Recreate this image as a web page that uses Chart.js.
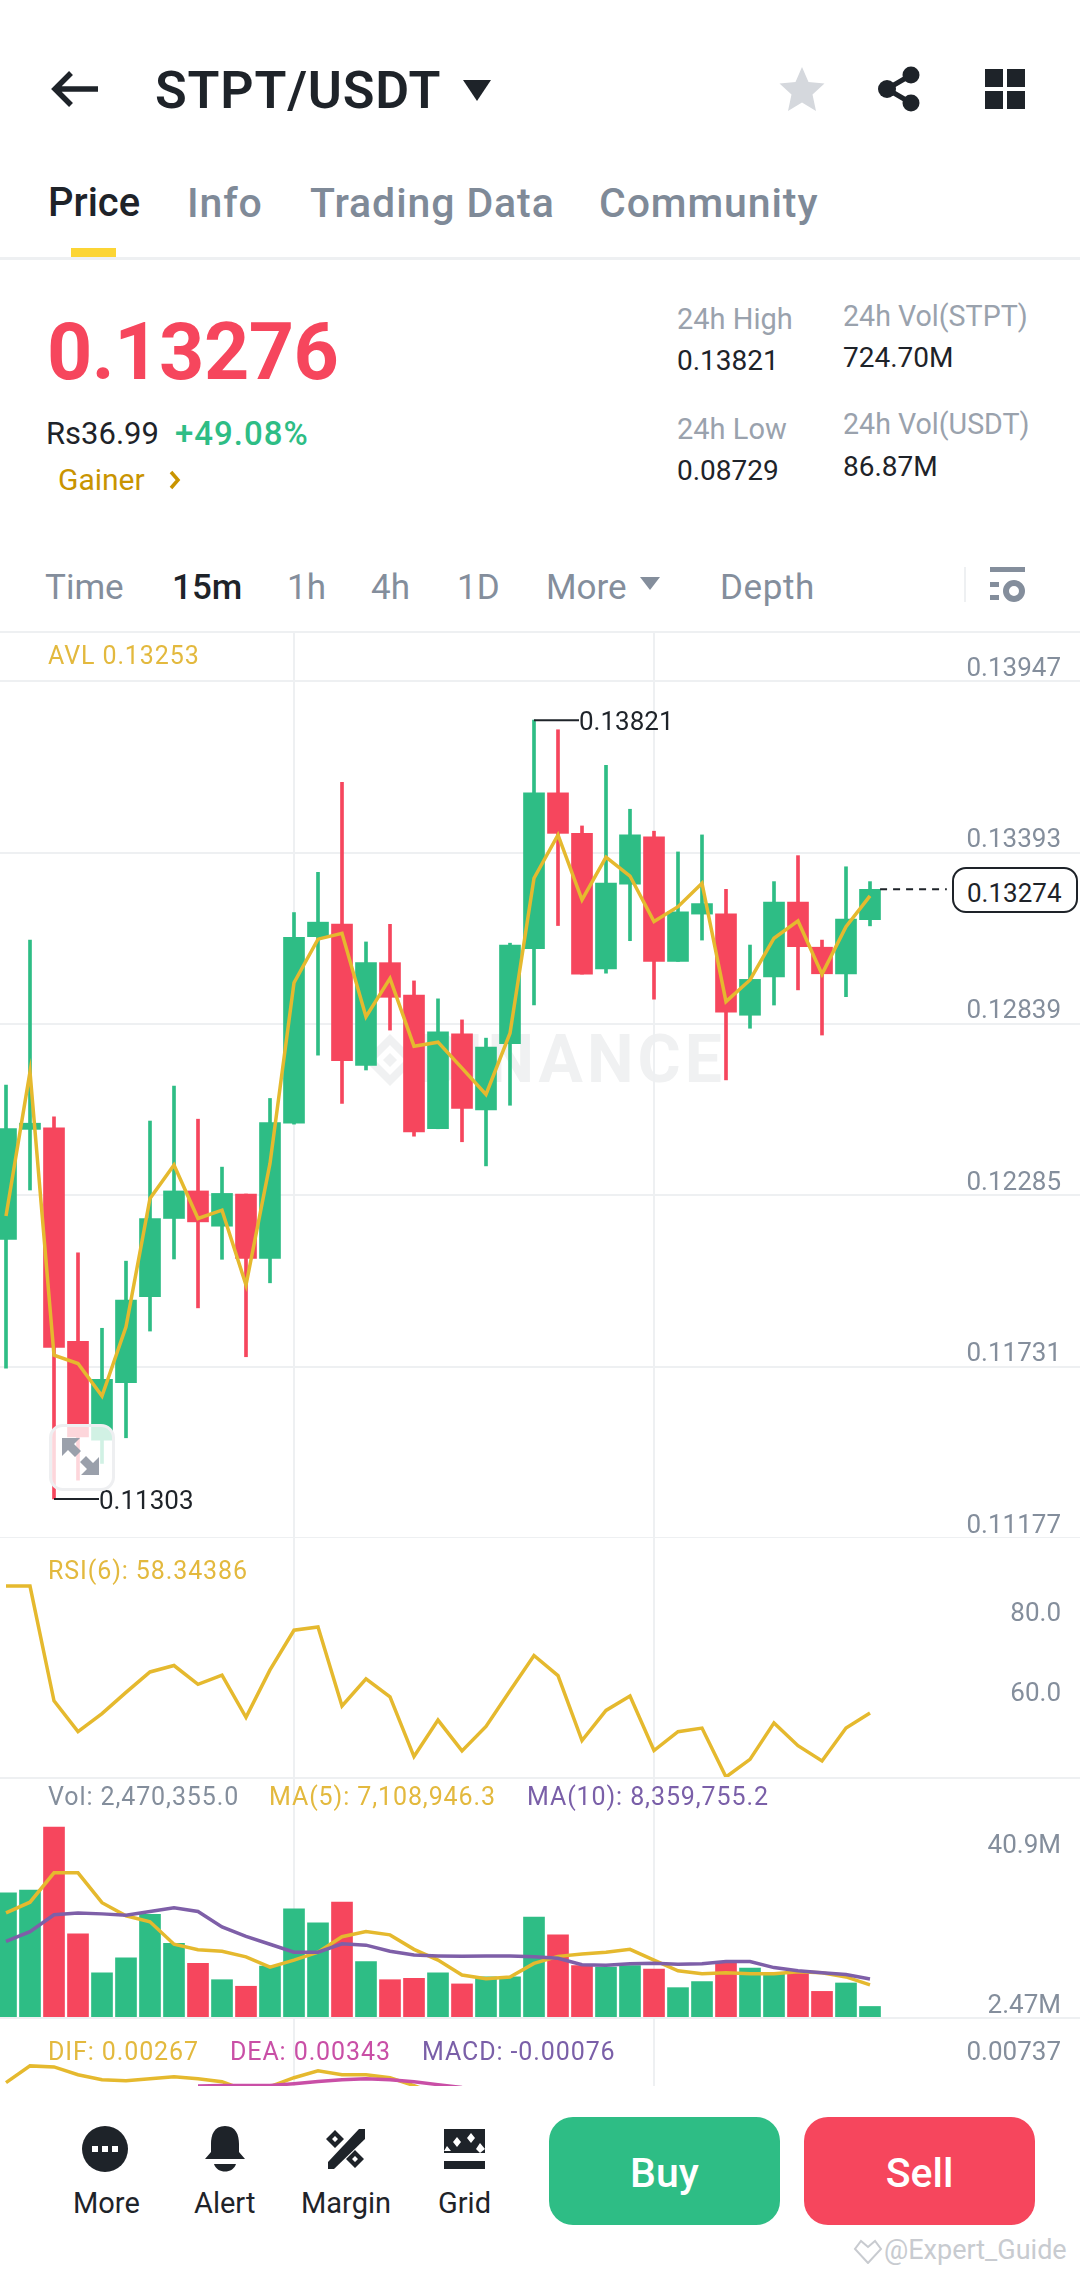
<!DOCTYPE html>
<html>
<head>
<meta charset="utf-8">
<script src="https://cdn.jsdelivr.net/npm/chart.js@4"></script>
<style>
html, body { margin: 0; padding: 0; background: #fff; }
body { width: 1080px; height: 2272px; position: relative; overflow: hidden; font-family: Roboto, sans-serif; color: #1E2329; }
.t { position: absolute; white-space: nowrap; line-height: 1; transform: translateY(-50%); }
.gris { color: #848E9C; }
.claro { color: #9AA2AD; }
.tab { font-size: 41px; font-weight: 500; color: #7F8A98; letter-spacing: 0.9px; }
.tf { font-size: 35px; color: #848E9C; }
.leg { font-size: 25px; letter-spacing: 0.9px; }
.nav { font-size: 29px; }
canvas { position: absolute; left: 0; }
.pane { position: absolute; left: 0; width: 1080px; }
.linea { position: absolute; left: 0; width: 1080px; height: 2px; background: #EEF0F2; }
svg { position: absolute; }
.btn { position: absolute; top: 2117px; height: 108px; width: 231px; border-radius: 24px; color: #fff; font-size: 41px; font-weight: 500; text-align: center; line-height: 112px; }
</style>
</head>
<body>

<!-- cabecera -->
<svg style="left:50px;top:70px" width="50" height="38" viewBox="0 0 50 38"><path d="M21 3 L5 19 L21 35 M5 19 H48" fill="none" stroke="#1E2329" stroke-width="5.5"/></svg>
<div class="t" style="left:155px;top:91px;font-size:52px;font-weight:600;letter-spacing:0.8px">STPT/USDT</div>
<svg style="left:463px;top:80px" width="28" height="21"><path d="M0 0 H28 L14 21 Z" fill="#1E2329"/></svg>
<svg style="left:779px;top:66px" width="46" height="46" viewBox="0 0 46 46"><path d="M23 1 L29.5 16 L45.5 17.5 L33.5 28.5 L37 45 L23 36.5 L9 45 L12.5 28.5 L0.5 17.5 L16.5 16 Z" fill="#D5D8DD"/></svg>
<svg style="left:876px;top:66px" width="46" height="46" viewBox="0 0 46 46"><path d="M35 9 L11 23 L35 37" fill="none" stroke="#1E2329" stroke-width="5"/><circle cx="35" cy="9" r="8.5" fill="#1E2329"/><circle cx="11" cy="23" r="9" fill="#1E2329"/><circle cx="35" cy="37" r="8.5" fill="#1E2329"/></svg>
<svg style="left:985px;top:69px" width="40" height="40"><rect width="18" height="18" fill="#1E2329"/><rect x="22" width="18" height="18" fill="#1E2329"/><rect y="22" width="18" height="18" fill="#1E2329"/><rect x="22" y="22" width="18" height="18" fill="#1E2329"/></svg>

<div class="t tab" style="left:48px;top:203px;color:#1E2329;font-size:40px;letter-spacing:0">Price</div>
<div class="t tab" style="left:187px;top:203px">Info</div>
<div class="t tab" style="left:310px;top:203px">Trading Data</div>
<div class="t tab" style="left:599px;top:203px">Community</div>
<div style="position:absolute;left:71px;top:248px;width:45px;height:9px;background:#FCD535"></div>
<div class="linea" style="top:257px;height:3px"></div>

<!-- precio -->
<div class="t" style="left:47px;top:352px;font-size:79px;font-weight:700;color:#F6465D;letter-spacing:-0.5px">0.13276</div>
<div class="t" style="left:46px;top:433px;font-size:31px">Rs36.99</div>
<div class="t" style="left:175px;top:433px;font-size:33px;font-weight:500;color:#2EBD85;letter-spacing:1px">+49.08%</div>
<div class="t" style="left:58px;top:480px;font-size:30px;color:#C99400">Gainer</div>
<svg style="left:169px;top:470px" width="12" height="20"><path d="M2 2 L9 10 L2 18" fill="none" stroke="#C99400" stroke-width="3.5"/></svg>

<div class="t claro" style="left:677px;top:319px;font-size:29px">24h High</div>
<div class="t" style="left:677px;top:361px;font-size:28px">0.13821</div>
<div class="t claro" style="left:843px;top:316px;font-size:28.6px">24h Vol(STPT)</div>
<div class="t" style="left:843px;top:358px;font-size:28px">724.70M</div>
<div class="t claro" style="left:677px;top:429px;font-size:29px">24h Low</div>
<div class="t" style="left:677px;top:471px;font-size:28px">0.08729</div>
<div class="t claro" style="left:843px;top:424px;font-size:28.6px">24h Vol(USDT)</div>
<div class="t" style="left:843px;top:467px;font-size:28px">86.87M</div>

<!-- temporalidades -->
<div class="t tf" style="left:45px;top:587px">Time</div>
<div class="t tf" style="left:172px;top:587px;color:#1E2329;font-weight:500">15m</div>
<div class="t tf" style="left:287px;top:587px">1h</div>
<div class="t tf" style="left:371px;top:587px">4h</div>
<div class="t tf" style="left:457px;top:587px">1D</div>
<div class="t tf" style="left:546px;top:587px">More</div>
<svg style="left:640px;top:577px" width="20" height="13"><path d="M0 0 H20 L10 13 Z" fill="#848E9C"/></svg>
<div class="t tf" style="left:720px;top:587px;letter-spacing:0.6px">Depth</div>
<div style="position:absolute;left:964px;top:567px;width:2px;height:35px;background:#EEF0F2"></div>
<svg style="left:990px;top:567px" width="36" height="36" viewBox="0 0 36 36"><rect x="0" y="0" width="35" height="5" fill="#848E9C"/><rect x="0" y="15" width="9" height="5" fill="#848E9C"/><rect x="0" y="28" width="9" height="5" fill="#848E9C"/><circle cx="24" cy="24" r="8" fill="none" stroke="#848E9C" stroke-width="6"/></svg>

<!-- paneles -->
<div class="linea" style="top:631px"></div>

<!-- marca de agua detras de las velas -->
<svg style="left:360px;top:1030px" width="60" height="60" viewBox="0 0 60 60"><path d="M30 4 L56 30 L30 56 L4 30 Z M30 15 L15 30 L30 45 L45 30 Z" fill="#F0F1F2" fill-rule="evenodd"/><path d="M30 23 L37 30 L30 37 L23 30 Z" fill="#F0F1F2"/></svg>
<div class="t" style="left:418px;top:1060px;font-size:66px;font-weight:700;color:#F0F1F2;letter-spacing:4px">BINANCE</div>

<canvas id="graficoPrecio" width="1080" height="906" style="top:632px"></canvas>
<canvas id="graficoRsi" width="1080" height="239" style="top:1538px"></canvas>
<canvas id="graficoVol" width="1080" height="240" style="top:1778px"></canvas>
<canvas id="graficoMacd" width="1080" height="68" style="top:2018px"></canvas>
<div class="linea" style="top:1777px"></div>
<div class="linea" style="top:2017px"></div>

<div class="t leg" style="left:48px;top:655px;color:#E3B93E">AVL 0.13253</div>
<div class="t leg" style="left:48px;top:1570px;color:#E3B93E">RSI(6): 58.34386</div>
<div class="t leg" style="left:48px;top:1796px;color:#848E9C">Vol: 2,470,355.0</div>
<div class="t leg" style="left:269px;top:1796px;color:#E3B93E">MA(5): 7,108,946.3</div>
<div class="t leg" style="left:527px;top:1796px;color:#7A5FA8">MA(10): 8,359,755.2</div>
<div class="t leg" style="left:48px;top:2051px;color:#E3B93E">DIF: 0.00267</div>
<div class="t leg" style="left:230px;top:2051px;color:#C94FA6">DEA: 0.00343</div>
<div class="t leg" style="left:422px;top:2051px;color:#7A5FA8">MACD: -0.00076</div>

<!-- ultimo precio -->
<div style="position:absolute;left:952px;top:867px;width:122px;height:42px;border:2px solid #1E2329;border-radius:14px;background:#fff"></div>
<div class="t" style="left:967px;top:893px;font-size:26px">0.13274</div>

<!-- boton expandir -->
<div style="position:absolute;left:49px;top:1424px;width:60px;height:61px;border:3px solid #EEEFF1;border-radius:14px;background:rgba(255,255,255,0.78)"></div>
<svg style="left:62px;top:1438px" width="38" height="38" viewBox="0 0 38 38"><path d="M0 0 H18 L12 6 L19 13 L13 19 L6 12 L0 18 Z" fill="#9AA0AB"/><path d="M37 37 H19 L25 31 L18 24 L24 18 L31 25 L37 19 Z" fill="#9AA0AB"/></svg>

<!-- barra inferior -->
<div style="position:absolute;left:0;top:2086px;width:1080px;height:186px;background:#fff"></div>
<svg style="left:82px;top:2126px" width="46" height="46"><circle cx="23" cy="23" r="23" fill="#1E2329"/><rect x="10" y="20" width="6" height="6" fill="#fff"/><rect x="20" y="20" width="6" height="6" fill="#fff"/><rect x="30" y="20" width="6" height="6" fill="#fff"/></svg>
<div class="t nav" style="left:73px;top:2203px">More</div>
<svg style="left:205px;top:2126px" width="40" height="46" viewBox="0 0 40 46"><path d="M20 0 C31 0 34 9 34 18 V26 L40 33 H0 L6 26 V18 C6 9 9 0 20 0 Z" fill="#1E2329"/><path d="M9 38 H31 C28 48 12 48 9 38 Z" fill="#1E2329"/></svg>
<div class="t nav" style="left:194px;top:2203px">Alert</div>
<svg style="left:325px;top:2129px" width="40" height="40" viewBox="0 0 40 40"><path d="M40 0 V10 L9 40 H3 V33 L34 0 Z" fill="#1E2329"/><path d="M10 1 L19 10 L10 19 L1 10 Z M10 7 L7 10 L10 13 L13 10 Z" fill="#1E2329" fill-rule="evenodd"/><path d="M30 21 L39 30 L30 39 L21 30 Z M30 27 L27 30 L30 33 L33 30 Z" fill="#1E2329" fill-rule="evenodd"/></svg>
<div class="t nav" style="left:301px;top:2203px">Margin</div>
<svg style="left:444px;top:2129px" width="41" height="40" viewBox="0 0 41 40"><path d="M0 0 H41 V24 H0 Z" fill="#1E2329"/><rect y="32" width="41" height="8" fill="#1E2329"/><path d="M13 8 L17 13 L13 18 L9 13 Z M27 4 L31 9 L27 14 L23 9 Z M3 17 L7 22 H0 Z M36 14 L41 20 L36 24 L32 20 Z" fill="#fff"/></svg>
<div class="t nav" style="left:438px;top:2203px">Grid</div>
<div class="btn" style="left:549px;background:#2EBD85">Buy</div>
<div class="btn" style="left:804px;background:#F6465D">Sell</div>

<svg style="left:853px;top:2238px" width="30" height="26" viewBox="0 0 30 26"><path d="M15 25 L2 11 L8 3 L15 9 L22 3 L28 11 Z" fill="none" stroke="#C8CBD0" stroke-width="2"/></svg>
<div class="t" style="left:884px;top:2250px;font-size:27px;color:#C8CBD0">@Expert_Guide</div>

<script>
/* =========================================
   DATOS
   ========================================= */
const apertura = [0.12142,0.12498,0.12503,0.11813,0.11493,0.11679,0.11957,0.12210,0.12299,0.12185,0.12289,0.12081,0.12518,0.13121,0.13162,0.12705,0.13037,0.12932,0.12500,0.12807,0.12561,0.12775,0.13082,0.13586,0.13455,0.13017,0.13291,0.13444,0.13041,0.13194,0.13195,0.12867,0.12991,0.13233,0.13087,0.13001,0.13176];
const maximo   = [0.12641,0.13110,0.12539,0.12099,0.11855,0.12072,0.12525,0.12638,0.12531,0.12376,0.12289,0.12598,0.13199,0.13329,0.13620,0.13104,0.13161,0.12978,0.12920,0.12852,0.12793,0.13100,0.13821,0.13790,0.13479,0.13675,0.13533,0.13462,0.13395,0.13450,0.13274,0.13094,0.13299,0.13383,0.13110,0.13347,0.13299];
const minimo   = [0.11726,0.12302,0.11303,0.11364,0.11418,0.11501,0.11846,0.12079,0.11921,0.12078,0.11763,0.12002,0.12515,0.12738,0.12582,0.12690,0.12819,0.12476,0.12500,0.12458,0.12380,0.12576,0.12900,0.13157,0.13000,0.13003,0.13108,0.12919,0.13041,0.13110,0.12658,0.12825,0.12900,0.12949,0.12803,0.12927,0.13156];
const cierre   = [0.12501,0.12518,0.11793,0.11504,0.11690,0.11946,0.12210,0.12299,0.12199,0.12291,0.12081,0.12520,0.13119,0.13168,0.12720,0.13037,0.12925,0.12490,0.12813,0.12566,0.12764,0.13094,0.13586,0.13455,0.13000,0.13294,0.13450,0.13041,0.13201,0.13228,0.12877,0.12983,0.13233,0.13089,0.13001,0.13178,0.13274];
const avl      = [0.12218,0.12684,0.11768,0.11741,0.11636,0.11860,0.12275,0.12383,0.12210,0.12237,0.11995,0.12388,0.12972,0.13113,0.13132,0.12862,0.12986,0.12767,0.12780,0.12696,0.12611,0.12809,0.13310,0.13450,0.13240,0.13378,0.13317,0.13170,0.13218,0.13294,0.12911,0.12981,0.13116,0.13172,0.13000,0.13153,0.13253];

const rsi = [90.0,90.0,61.4,53.7,58.2,63.5,68.6,70.2,65.5,67.8,57.3,69.1,79.0,79.8,60.1,66.9,62.4,47.5,56.6,48.9,55.0,63.9,72.7,67.7,51.5,59.0,62.6,49.0,53.7,54.6,42.4,46.8,55.9,50.2,46.4,54.6,58.34];

// volumen en millones
const volumen = [26.8,27.4,40.9,18.0,9.7,12.9,22.2,16.0,11.7,8.2,6.8,11.1,23.4,20.4,24.8,12.1,8.2,8.5,9.7,7.3,8.8,8.8,21.6,17.8,11.2,10.9,11.2,10.5,6.5,7.8,12.0,10.7,9.8,9.7,5.7,7.5,2.47];
const ma5  = [22.5,24.8,31.1,31.1,24.7,21.9,20.6,15.8,14.6,14.3,13.1,10.9,12.4,14.1,17.4,18.5,17.8,14.7,12.4,9.2,8.4,8.8,11.7,13.2,13.7,14.1,14.7,12.4,10.1,9.5,9.7,9.5,9.5,9.9,9.7,8.8,7.11];
const ma10 = [16.4,18.5,22.1,22.5,22.3,22.0,22.8,23.6,22.8,19.5,17.5,15.8,14.1,14.1,15.9,15.6,14.3,13.5,13.3,13.2,13.3,13.3,13.1,12.8,11.4,11.3,11.6,11.7,11.5,11.6,12.1,12.1,10.8,10.1,9.7,9.3,8.36];

// MACD: la parte baja queda tapada por la barra inferior, solo lo visible
const dif = [0.00652,0.00737,0.00732,0.00692,0.00667,0.00662,0.00672,0.00682,0.00672,0.00657,0.00612,0.00632,0.00677,0.00712,0.00692,0.00692,0.00677,0.00637,0.00592];
const dea = [null,null,null,null,null,null,null,null,0.00635,0.00637,0.00637,0.00637,0.00647,0.00658,0.00667,0.00672,0.00667,0.00657,0.00642,0.00627];

const ticksPrecio = [0.13947,0.13393,0.12839,0.12285,0.11731,0.11177];
const etiquetasPrecio = ['0.13947','0.13393','0.12839','0.12285','0.11731','0.11177'];
const ticksRsi = [80,60];
const etiquetasRsi = ['80.0','60.0'];
const ticksVol = [34.1,0];
const etiquetasVol = ['40.9M','2.47M'];
const ticksMacd = [0.00737];
const etiquetasMacd = ['0.00737'];
const rejillaX = [12,27];

const precioFinal = 0.13274;
const indiceMax = 22, indiceMin = 2;

/* =========================================
   CONFIGURACION COMUN
   ========================================= */
const VERDE = '#2EBD85', ROJO = '#F6465D', AMARILLO = '#E5B92E', PURPURA = '#7E5FA8', MAGENTA = '#C94FA6';
const REJILLA = '#EEF0F2';
Chart.defaults.font.family = 'Roboto, sans-serif';
Chart.defaults.animation = false;

const indices = apertura.map((_, i) => i);
const colores = apertura.map((a, i) => cierre[i] >= a ? VERDE : ROJO);
const serie = arr => arr.map((v, i) => ({ x: i, y: v }));

function escalas(min, max, valores, etiquetas, conRejillaY) {
    return {
        x: {
            type: 'linear', min: -0.25, max: 44.75, offset: false,
            afterBuildTicks: s => { s.ticks = rejillaX.map(v => ({ value: v })); },
            afterFit: s => { s.height = 0; s.paddingLeft = 0; s.paddingRight = 0; },
            ticks: { display: false },
            grid: { color: REJILLA, lineWidth: 2, drawTicks: false, offset: false },
            border: { display: false }
        },
        y: {
            type: 'linear', position: 'right', min: min, max: max,
            afterBuildTicks: s => { s.ticks = valores.map(v => ({ value: v })); },
            afterFit: s => { s.width = 0; s.paddingTop = 0; s.paddingBottom = 0; },
            ticks: {
                mirror: true, padding: -19, labelOffset: -12, autoSkip: false,
                color: '#848E9C', font: { size: 26 },
                callback: (v, i) => etiquetas[i]
            },
            grid: { display: conRejillaY, color: REJILLA, lineWidth: 2, drawTicks: false },
            border: { display: false }
        }
    };
}

function opciones(sc) {
    return {
        responsive: false, maintainAspectRatio: false, animation: false,
        layout: { padding: 0 },
        plugins: { legend: { display: false }, tooltip: { enabled: false } },
        scales: sc
    };
}

const linea = (arr, color, ancho, orden) => ({
    type: 'line', data: serie(arr), borderColor: color, borderWidth: ancho,
    pointRadius: 0, tension: 0, fill: false, order: orden, spanGaps: false
});

/* =========================================
   GRAFICO DE PRECIO
   ========================================= */
// etiquetas de maximo y minimo con su guia
const extremos = {
    id: 'extremos',
    afterDatasetsDraw(chart) {
        const { ctx, scales: { x, y } } = chart;
        const dibujar = (i, valor, texto) => {
            const px = x.getPixelForValue(i), py = y.getPixelForValue(valor);
            ctx.save();
            ctx.strokeStyle = '#1E2329';
            ctx.lineWidth = 2;
            ctx.beginPath();
            ctx.moveTo(px, py);
            ctx.lineTo(px + 45, py);
            ctx.stroke();
            ctx.fillStyle = '#1E2329';
            ctx.font = '26px Roboto, sans-serif';
            ctx.textBaseline = 'middle';
            ctx.fillText(texto, px + 45, py + 3);
            ctx.restore();
        };
        dibujar(indiceMax, maximo[indiceMax], maximo[indiceMax].toFixed(5));
        dibujar(indiceMin, minimo[indiceMin], minimo[indiceMin].toFixed(5));
    }
};

new Chart(document.getElementById('graficoPrecio'), {
    type: 'bar',
    data: {
        datasets: [
            { data: indices.map(i => ({ x: i, y: [apertura[i], cierre[i]] })), backgroundColor: colores, barThickness: 21, grouped: false, order: 2, minBarLength: 2 },
            { data: indices.map(i => ({ x: i, y: [minimo[i], maximo[i]] })), backgroundColor: colores, barThickness: 3, grouped: false, order: 3 },
            linea(avl, AMARILLO, 3.5, 1),
            { type: 'line', data: [{ x: 36.42, y: precioFinal }, { x: 39.2, y: precioFinal }], borderColor: '#1E2329', borderWidth: 2, borderDash: [7, 6], pointRadius: 0, order: 1 }
        ]
    },
    options: opciones(escalas(0.11177, 0.14106, ticksPrecio, etiquetasPrecio, true)),
    plugins: [extremos]
});

/* =========================================
   RSI
   ========================================= */
new Chart(document.getElementById('graficoRsi'), {
    type: 'line',
    data: { datasets: [linea(rsi, AMARILLO, 3.5, 1)] },
    options: opciones(escalas(42.4, 102, ticksRsi, etiquetasRsi, false))
});

/* =========================================
   VOLUMEN
   ========================================= */
new Chart(document.getElementById('graficoVol'), {
    type: 'bar',
    data: {
        datasets: [
            { data: serie(volumen), backgroundColor: colores, barThickness: 21, grouped: false, order: 2 },
            linea(ma5, AMARILLO, 3.5, 1),
            linea(ma10, PURPURA, 3.5, 0)
        ]
    },
    options: opciones(escalas(0, 51.4, ticksVol, etiquetasVol, false))
});

/* =========================================
   MACD
   ========================================= */
new Chart(document.getElementById('graficoMacd'), {
    type: 'line',
    data: { datasets: [linea(dif, AMARILLO, 3.5, 1), linea(dea, MAGENTA, 3.5, 0)] },
    options: opciones(escalas(0.00635, 0.0098, ticksMacd, etiquetasMacd, false))
});
</script>
</body>
</html>
